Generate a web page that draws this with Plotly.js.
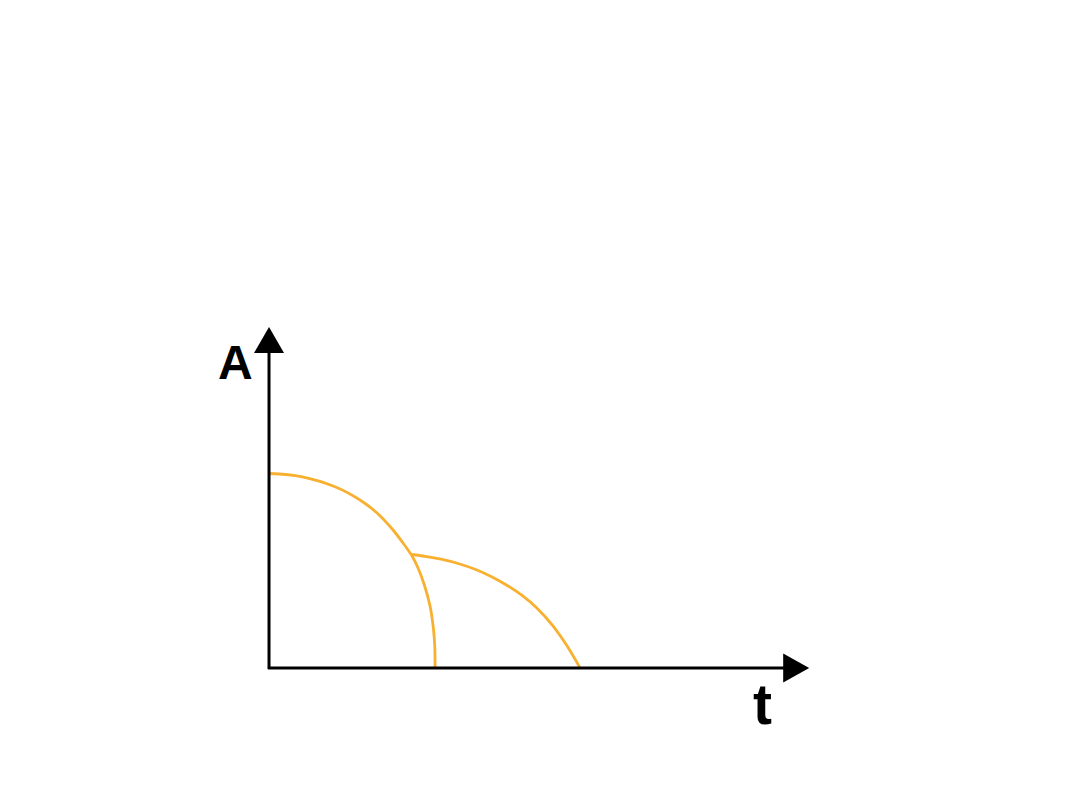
<!DOCTYPE html>
<html>
<head>
<meta charset="utf-8">
<script src="https://cdn.plot.ly/plotly-3.0.1.min.js"></script>
<style>html,body{margin:0;padding:0;background:#fff;}#chart{width:1080px;height:795px;}</style>
</head>
<body>
<div id="chart"></div>
<script>
// Data (t on x axis, A on y axis)
var arc1T = [0.000, 0.593, 1.222, 1.685, 2.000, 2.296, 2.481, 2.648, 2.759, 2.870, 2.981, 3.046, 3.069, 3.074];
var arc1A = [3.602, 3.546, 3.357, 3.111, 2.870, 2.556, 2.315, 2.074, 1.852, 1.556, 1.148, 0.704, 0.389, 0.000];
var arc2T = [2.648, 2.889, 3.185, 3.500, 3.815, 4.111, 4.426, 4.685, 4.963, 5.259, 5.519, 5.759];
var arc2A = [2.102, 2.069, 2.015, 1.935, 1.828, 1.694, 1.519, 1.343, 1.107, 0.776, 0.407, 0.000];
var axisLabelX = 't';
var axisLabelY = 'A';
var tMax = 10;
var aMax = 6.315;

var arcColor = '#F8B031';

var traces = [
  {x: arc1T, y: arc1A, mode: 'lines', line: {color: arcColor, width: 2.8, shape: 'spline', smoothing: 0.9}, hoverinfo: 'skip', cliponaxis: false},
  {x: arc2T, y: arc2A, mode: 'lines', line: {color: arcColor, width: 2.8, shape: 'spline', smoothing: 0.9}, hoverinfo: 'skip', cliponaxis: false}
];

var layout = {
  width: 1080, height: 795,
  margin: {l: 215, r: 260, t: 317, b: 73, pad: 0},
  paper_bgcolor: '#fff', plot_bgcolor: '#fff',
  showlegend: false,
  xaxis: {range: [-1, 10.2], visible: false, fixedrange: true},
  yaxis: {range: [-1, 6.5], visible: false, fixedrange: true},
  shapes: [
    {type: 'line', xref: 'x', yref: 'y', x0: -0.02, y0: 0, x1: tMax - 0.3, y1: 0, line: {color: '#000', width: 3}, layer: 'above'},
    {type: 'line', xref: 'x', yref: 'y', x0: 0, y0: -0.02, x1: 0, y1: aMax - 0.3, line: {color: '#000', width: 3}, layer: 'above'},
    {type: 'path', xref: 'x', yref: 'y', xsizemode: 'pixel', ysizemode: 'pixel', xanchor: 0, yanchor: aMax,
     path: 'M-15,-26 L15,-26 L0,0 Z', fillcolor: '#000', line: {width: 0}, layer: 'above'},
    {type: 'path', xref: 'x', yref: 'y', xsizemode: 'pixel', ysizemode: 'pixel', xanchor: tMax, yanchor: 0,
     path: 'M-26,-14.5 L-26,14.5 L0,0 Z', fillcolor: '#000', line: {width: 0}, layer: 'above'}
  ],
  annotations: [
    {x: 0, y: aMax, xref: 'x', yref: 'y', text: '<b>' + axisLabelY + '</b>', showarrow: false,
     xanchor: 'center', yanchor: 'middle', xshift: -34, yshift: -36,
     font: {family: 'Liberation Sans, Arial, sans-serif', size: 48, color: '#000'}},
    {x: tMax, y: 0, xref: 'x', yref: 'y', text: '<b>' + axisLabelX + '</b>', showarrow: false,
     xanchor: 'center', yanchor: 'middle', xshift: -47, yshift: -36,
     font: {family: 'Liberation Sans, Arial, sans-serif', size: 57, color: '#000'}}
  ]
};

Plotly.newPlot('chart', traces, layout, {displayModeBar: false, staticPlot: true});
</script>
</body>
</html>
